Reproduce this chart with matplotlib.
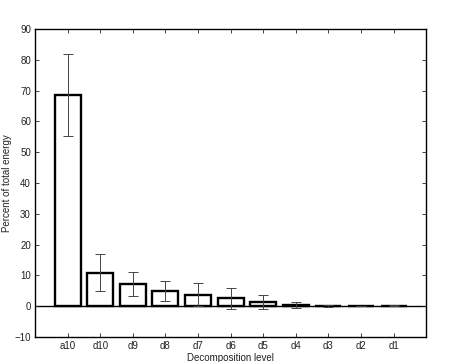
"""Energy per wavelet decomposition level, bar chart with error bars."""

import matplotlib
matplotlib.use("Agg")
import matplotlib.pyplot as plt
import numpy as np

levels = ["a10", "d10", "d9", "d8", "d7", "d6", "d5", "d4", "d3", "d2", "d1"]
energy = [68.7, 10.9, 7.2, 5.0, 3.8, 2.6, 1.3, 0.4, 0.2, 0.1, 0.15]
spread = [13.3, 6.0, 4.0, 3.2, 3.8, 3.4, 2.2, 0.9, 0.3, 0.1, 0.2]


def main():
    plt.rcParams["font.family"] = ["Liberation Sans", "DejaVu Sans"]
    fig = plt.figure(figsize=(4.74, 3.62), dpi=100)
    ax = fig.add_axes([0.074, 0.069, 0.825, 0.851])

    x = np.arange(1, len(levels) + 1)
    ax.axhline(0, color="black", lw=1.0, zorder=1)
    ax.bar(x, energy, width=0.8, color="white", edgecolor="black",
           linewidth=1.7, zorder=2)
    ax.errorbar(x, energy, yerr=spread, fmt="none", ecolor="#444444",
                elinewidth=0.7, capsize=3.5, capthick=0.7, zorder=3)

    ax.set_xlim(0, 12)
    ax.set_ylim(-10, 90)
    ax.set_xticks(x)
    ax.set_xticklabels(levels)
    ax.set_yticks(np.arange(-10, 91, 10))
    ax.tick_params(direction="in", top=True, right=True, labelsize=7,
                   length=3, width=0.6, colors="#222222", pad=3)
    for s in ax.spines.values():
        s.set_linewidth(1.0)

    ax.set_xlabel("Decomposition level", fontsize=7, labelpad=1, color="#222222")
    ax.set_ylabel("Percent of total energy", fontsize=7, labelpad=2, color="#222222")

    fig.savefig("out.png", dpi=100)


if __name__ == "__main__":
    main()
